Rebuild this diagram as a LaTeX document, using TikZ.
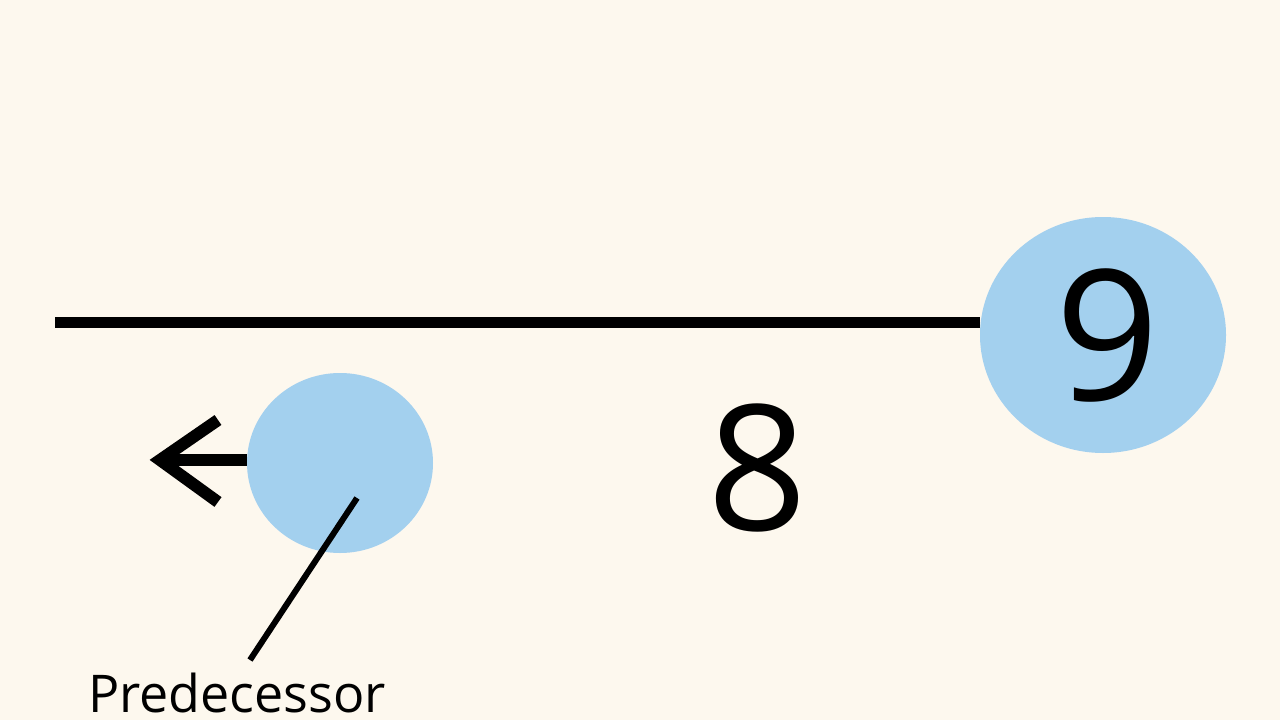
\documentclass[tikz,border=0pt]{standalone}
\usepackage{fontspec}
\setmainfont{Open Sans}
\usetikzlibrary{shapes.geometric}
\definecolor{bg}{HTML}{FDF8EE}
\definecolor{ball}{HTML}{A3D0EE}
\begin{document}
\begin{tikzpicture}[x=1pt,y=-1pt,
  blob/.style={ellipse,fill=ball,draw=none,inner sep=0pt},
  lbl/.style={inner sep=0pt,text=black}]
\fill[bg] (0,0) rectangle (1280,720);
\useasboundingbox (0,0) rectangle (1280,720);
\node[blob,minimum width=246pt,minimum height=236pt] (big) at (1103,335) {};
\node[blob,minimum width=186pt,minimum height=180pt] (small) at (340,463) {};
\coordinate (lstart) at (55,322);
\draw[line width=11pt] (lstart) -- (lstart -| big.west);
\node[lbl,font=\fontsize{182}{182}\selectfont] (nine) at (1108,335) {9};
\node[lbl,font=\fontsize{175}{175}\selectfont] (eight) at (758,468) {8};
\coordinate (atip) at (160,460);
\draw[line width=12pt] (atip -| small.west) -- (atip);
\draw[line width=12pt,line join=miter] (218,420) -- (atip) -- (218,502);
\coordinate (pin) at (357,498);
\node[lbl,font=\fontsize{52}{52}\selectfont,anchor=base] (pred) at (237,712) {Predecessor};
\coordinate (pend) at (250,660);
\draw[line width=6pt] (pin) -- (pend);
\end{tikzpicture}
\end{document}
